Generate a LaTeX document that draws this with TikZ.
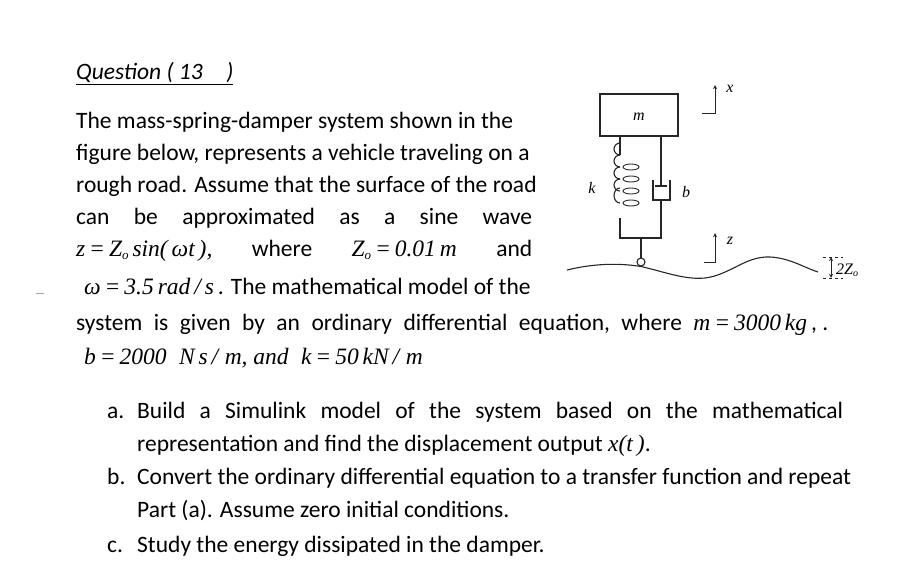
\documentclass[tikz,border=0pt]{standalone}
\usepackage{fontspec}
\setmainfont{Carlito}
\newfontfamily\tms{Liberation Serif}
\newcommand{\mi}[1]{{\tms\itshape #1}}
\newcommand{\subo}{\raisebox{-3pt}{\fontsize{13}{13}\selectfont o}}
\begin{document}
\begin{tikzpicture}[x=1pt,y=-1pt,
  txt/.style={anchor=base west,inner sep=0pt,font=\fontsize{23.5}{28}\selectfont},
  fig/.style={line width=1.1pt,black!85},
  lbl/.style={inner sep=0pt,font=\fontsize{16}{18}\selectfont\tms\itshape}]
\useasboundingbox (0,0) rectangle (902,578);
\node[txt] (q) at (76,80) {\underline{\textit{Question ( 13\quad )}}};
\node[txt] (l1) at (76,128) {The mass-spring-damper system shown in the};
\node[txt] (l2) at (76,160) {figure below, represents a vehicle traveling on a};
\node[txt] (l3) at (76,192) {rough road. Assume that the surface of the road};
\node[txt] (l4) at (76,224) {\hbox to 456pt{can\hfill be\hfill approximated\hfill as\hfill a\hfill sine\hfill wave}};
\node[txt] (l5) at (76,256) {\hbox to 456pt{\mi{z\,=\,Z\subo\,sin(\,ωt\,),}\hfill where\hfill \mi{Z\subo\,=\,0.01\,m}\hfill and}};
\node[txt] (l6) at (84,294) {\mi{ω\,=\,3.5\,rad\,/\,s}\,. The mathematical model of the};
\node[txt] (dots) at (36,294) {\fontsize{8}{8}\selectfont ....};
\node[txt] (l7) at (76,330) {\hbox to 752pt{system\hfill is\hfill given\hfill by\hfill an\hfill ordinary\hfill differential\hfill equation,\hfill where\hfill \mi{m\,=\,3000\,kg}\,, .}};
\node[txt] (l8) at (84,364) {\mi{b\,=\,2000\; N\,s\,/\;m, and\; k\,=\,50\,kN\,/\;m}};
\node[txt] (a) at (107,418) {a.};
\node[txt] (a1) at (137,418) {\hbox to 706pt{Build\hfill a\hfill Simulink\hfill model\hfill of\hfill the\hfill system\hfill based\hfill on\hfill the\hfill mathematical}};
\node[txt] (a2) at (137,451) {representation and find the displacement output \mi{x(t\,)}.};
\node[txt] (b) at (107,484) {b.};
\node[txt] (b1) at (137,484) {Convert the ordinary differential equation to a transfer function and repeat};
\node[txt] (b2) at (137,517) {Part (a). Assume zero initial conditions.};
\node[txt] (c) at (107,552) {c.};
\node[txt] (c1) at (137,552) {Study the energy dissipated in the damper.};
% figure
\node[fig,draw,minimum width=78pt,minimum height=42pt,inner sep=0pt] (m) at (639,115) {};
\node[lbl] (mt) at (639,117) {m};
\coordinate (st) at (620,136);
\coordinate (dt) at (661,136);
\coordinate (bl) at (620,238);
\coordinate (br) at (661,238);
\draw[fig] (st) -- (620,155);
\foreach \i in {0,1,2,3} \draw[fig] (620,{155+\i*12}) arc[start angle=90,end angle=270,x radius=6,y radius=6];
\draw[fig] (620,203) arc[start angle=90,end angle=270,x radius=6,y radius=7.5];
\foreach \i in {0,1,2,3} \draw[fig,line width=0.9pt] (631,{167+\i*12}) ellipse[x radius=8,y radius=3];
\draw[fig] (620,218) -- (bl) -- (br) -- (661,200);
\draw[fig] (dt) -- (661,186) (655,186) -- (667,186);
\draw[fig] (653,180) -- (653,200) -- (670,200) -- (670,180);
\draw[fig] (641,238) -- (641,258);
\node[fig,draw,circle,minimum size=8pt,inner sep=0pt] (w) at (641,262) {};
\draw[fig] (567,270) .. controls (600,262) and (625,264) .. (641,266.5)
  .. controls (665,272) and (685,280) .. (705,278)
  .. controls (730,275) and (745,256) .. (770,257)
  .. controls (790,258) and (805,268) .. (818,272);
\node[lbl] (kk) at (592,188) {k};
\node[lbl] (bb) at (686,192) {b};
\draw[fig,line width=0.9pt,-stealth] (702,113) -- (715,113) -- (715,85);
\node[lbl] (xx) at (730,89) {x};
\draw[fig,line width=0.9pt,-stealth] (704,262) -- (715,262) -- (715,233);
\node[lbl] (zz) at (730,241) {z};
\draw[fig,line width=0.5pt,dashed] (823,257) -- (843,257) (823,278) -- (843,278);
\draw[fig,line width=0.9pt,stealth-stealth] (831,257) -- (831,278);
\node[lbl,anchor=west] (zo) at (836,270) {2Z\raisebox{-2pt}{\fontsize{10}{10}\selectfont o}};
\end{tikzpicture}
\end{document}
